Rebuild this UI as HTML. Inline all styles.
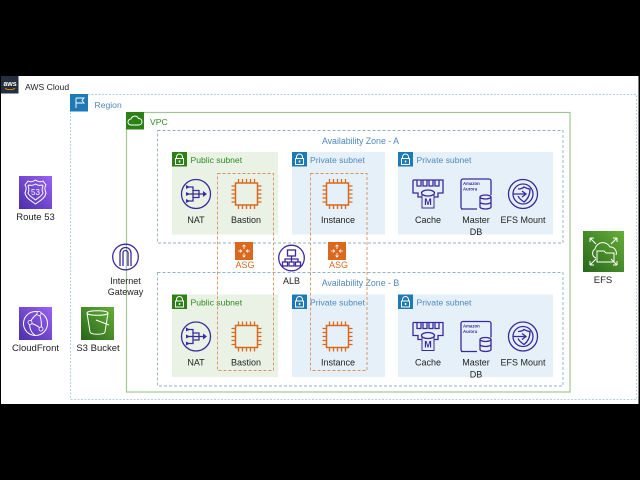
<!DOCTYPE html>
<html><head><meta charset="utf-8"><style>
html,body{margin:0;padding:0;background:#000;width:640px;height:480px;overflow:hidden}
svg{display:block;filter:blur(.3px)}
text{font-family:"Liberation Sans",sans-serif;font-size:9px;fill:#222;text-anchor:middle}
.s{text-anchor:start;font-size:8.600px}
.l{font-size:9.500px}
.b{fill:#4f88bd}.g{fill:#2f8a20}
.pur{fill:none;stroke:#3b2a9e;stroke-width:1.3}
.w{fill:none;stroke:#fff;stroke-width:1}
.o{fill:none;stroke:#d9691e;stroke-width:1.3}
</style></head><body>
<svg width="640" height="480" viewBox="0 0 640 480" xmlns="http://www.w3.org/2000/svg">
<defs>
<linearGradient id="pg" x1="0" y1="1" x2="1" y2="0"><stop offset="0" stop-color="#4a2fa8"/><stop offset="1" stop-color="#9a62f5"/></linearGradient>
<linearGradient id="gg" x1="0" y1="1" x2="1" y2="0"><stop offset="0" stop-color="#27661a"/><stop offset="1" stop-color="#66ae38"/></linearGradient>
<g id="lock"><path d="M4.5 6.5V5a3 3 0 0 1 6 0v1.500" fill="none" stroke="#fff" stroke-width="1"/><rect x="3.500" y="6.500" width="8" height="6" fill="none" stroke="#fff" stroke-width="1"/><rect x="6.800" y="8.500" width="1.500" height="2" fill="#fff"/></g>
<g id="nat"><circle cx="0" cy="0" r="14.500" class="pur"/><path class="pur" d="M-8-7L-3-7V7L-8 7M-8 0H8M-3-3.500H3V3.500H-3"/><path d="M-10-9l4 2-4 2zM-10-2l4 2-4 2zM-10 5l4 2-4 2zM7-3l4 3-4 3z" fill="#3b2a9e"/></g>
<g id="chip"><rect x="-11" y="-11" width="22" height="22" fill="none" stroke="#d9691e" stroke-width="1.500"/><path class="o" d="M-15-8H-11M-15-4H-11M-15 0H-11M-15 4H-11M-15 8H-11M11-8H15M11-4H15M11 0H15M11 4H15M11 8H15M-8-15V-11M-4-15V-11M0-15V-11M4-15V-11M8-15V-11M-8 11V15M-4 11V15M0 11V15M4 11V15M8 11V15"/></g>
<g id="cache"><path class="pur" d="M-15-14H15V-1H10V3H6M-15-14V-1H-10V3H-6M-11-14V-8H-7V-14M-5-14V-8H-1V-14M1-14V-8H5V-14M7-14V-8H11V-14"/><path d="M-6 3v11h12V3" fill="none" stroke="#3b2a9e" stroke-width="1"/><path d="M-6-1V3M6-1V3" fill="none" stroke="#3b2a9e" stroke-width="1"/><ellipse cx="0" cy="-1" rx="6.500" ry="3" fill="#e6f0f8" stroke="#3b2a9e" stroke-width="1.300"/><text x="0" y="11" style="font-size:9px;fill:#3b2a9e;font-weight:bold">M</text></g>
<g id="aurora"><path class="pur" d="M-10 15H-13A2 2 0 0 1-15 13V-13A2 2 0 0 1-13-15H13A2 2 0 0 1 15-13V1M-15 15H1"/><text x="-13" y="-9" style="font-size:4.300px;text-anchor:start;fill:#3b2a9e;font-weight:bold">Amazon</text><text x="-13" y="-3.500" style="font-size:4.300px;text-anchor:start;fill:#3b2a9e;font-weight:bold">Aurora</text><path class="pur" d="M4 3V13A5.500 2 0 0 0 15 13V3M4 8A5.500 2 0 0 0 15 8"/><ellipse cx="9.500" cy="3" rx="5.500" ry="2" class="pur"/></g>
<g id="mount"><circle cx="0" cy="0" r="14.500" class="pur"/><circle cx="0" cy="0" r="10" class="pur"/><path class="pur" d="M-5-5C-2-5 0-6 1-7C3-6 5-5 7-5C7 1 5 5 1 8C-2 6-4 4-5 2M-10 0H2M-1-3L3 0L-1 3"/></g>
<g id="asg"><rect x="0" y="0" width="18" height="18" fill="#d9691e"/><path stroke="#fff" stroke-width=".8" fill="none" d="M9 3V7M7.500 4.500L9 3L10.500 4.500M9 11V15M7.500 13.500L9 15L10.500 13.500M3 9H7M5 7.500L6.800 9L5 10.500M15 9H11M13 7.500L11.200 9L13 10.500"/></g>
<g id="row"><rect x="172" y="0" width="106" height="82.500" fill="#e9f2e5"/><rect x="292" y="0" width="93" height="82.500" fill="#e6f0f8"/><rect x="398" y="0" width="155" height="82.500" fill="#e6f0f8"/>
<rect x="172" y="0" width="15" height="14.500" fill="#2c8016"/><use href="#lock" x="172" y="0"/><rect x="292" y="0" width="15" height="14.500" fill="#1d7ab5"/><use href="#lock" x="292" y="0"/><rect x="398" y="0" width="15" height="14.500" fill="#1d7ab5"/><use href="#lock" x="398" y="0"/>
<text x="190.500" y="11" class="s g">Public subnet</text><text x="310" y="11" class="s b">Private subnet</text><text x="416.500" y="11" class="s b">Private subnet</text>
<use href="#nat" x="196" y="42"/><use href="#chip" x="246.500" y="42"/><use href="#chip" x="337.500" y="42"/><use href="#cache" x="428" y="42"/><use href="#aurora" x="476" y="42"/><use href="#mount" x="523" y="42"/>
<text x="196" y="71">NAT</text><text x="246" y="71">Bastion</text><text x="338" y="71">Instance</text><text x="428" y="71">Cache</text><text x="476" y="71">Master</text><text x="476" y="83">DB</text><text x="523" y="71">EFS Mount</text></g>
</defs>

<rect x="1" y="76" width="637.500" height="328" fill="#fff"/>

<rect x="1" y="76" width="17.500" height="17.500" fill="#232f3e"/>
<text x="10" y="86" style="font-size:7px;fill:#fff;font-weight:bold">aws</text>
<path d="M5 88.500q5 2.500 10 0" stroke="#f90" fill="none" stroke-width=".8"/>
<text x="25" y="90" class="s">AWS Cloud</text>

<rect x="70.500" y="94.500" width="566" height="305" fill="none" stroke="#b4d0df" stroke-width="1" stroke-dasharray="2 1.500"/>
<rect x="70" y="94" width="18" height="17.500" fill="#1d7ab5"/>
<path d="M76 108V98M76 98h8l-2 2.500 2 2.500h-8" fill="none" stroke="#fff" stroke-width=".9"/>
<text x="94.500" y="108" class="s b">Region</text>

<rect x="126.500" y="112.500" width="443.500" height="279.500" fill="none" stroke="#a3c594" stroke-width="1.200"/>
<rect x="126" y="112" width="18" height="17.500" fill="#2c8016"/>
<path d="M131 125a3 3 0 0 1 0-6a4 4 0 0 1 7.500-.5a3.200 3.200 0 0 1 .5 6.500z" fill="none" stroke="#fff" stroke-width=".9"/>
<text x="150" y="125" class="s g">VPC</text>

<rect x="157.500" y="130.500" width="405.500" height="112.500" fill="none" stroke="#8fb2c8" stroke-width=".9" stroke-dasharray="3 2"/>
<rect x="157.500" y="272.500" width="405.500" height="113.500" fill="none" stroke="#8fb2c8" stroke-width=".9" stroke-dasharray="3 2"/>
<text x="360.500" y="144" class="b" style="font-size:8.800px">Availability Zone - A</text>
<text x="360.500" y="286" class="b" style="font-size:8.800px">Availability Zone - B</text>

<use href="#row" y="152"/>
<use href="#row" y="294.500"/>

<rect x="217.500" y="173.500" width="56" height="197" fill="none" stroke="#d98f5f" stroke-width=".9" stroke-dasharray="3 2"/>
<rect x="310.500" y="173.500" width="56.500" height="197" fill="none" stroke="#d98f5f" stroke-width=".9" stroke-dasharray="3 2"/>

<use href="#asg" x="235" y="242"/><use href="#asg" x="328" y="242"/>
<text x="245" y="268" style="fill:#d9691e">ASG</text><text x="338.500" y="268" style="fill:#d9691e">ASG</text>

<circle cx="291.500" cy="258" r="12.800" fill="#fff" class="pur"/>
<rect x="287.500" y="250" width="8" height="6" class="pur"/>
<path class="pur" stroke-width="1" d="M291.500 256V259M285 262V259H298V262M291.500 259V262"/>
<rect x="282.500" y="262" width="5" height="4" class="pur"/><rect x="289" y="262" width="5" height="4" class="pur"/><rect x="295.500" y="262" width="5" height="4" class="pur"/>
<text x="291.500" y="284">ALB</text>

<circle cx="125.500" cy="257" r="12.800" fill="#fff" class="pur"/>
<path class="pur" d="M120 266V253A5.500 5.500 0 0 1 131 253V266M123 266V253A2.500 2.500 0 0 1 128 253V266"/>
<text x="125.500" y="284">Internet</text><text x="125.500" y="295">Gateway</text>

<rect x="19" y="176" width="33" height="33" fill="url(#pg)"/>
<path class="w" d="M28 181C31 183 34 181 35.500 180C37 181 40 183 43 181L46 185C44 188 45 190 46 193C45 198 41 200 35.500 204C30 200 26 198 25 193C26 190 27 188 25 185Z"/>
<path class="w" d="M29 185C32 186 34 185 35.500 184C37 185 39 186 42 185L43 186C41.500 189 42 191 43 193C42 196 39 197 35.500 200C32 197 29 196 28 193C29 191 29.500 189 28 186Z" stroke-width=".7"/>
<text x="35.500" y="195" style="fill:#fff;font-size:8px">53</text>
<text x="35.500" y="220" class="l">Route 53</text>

<rect x="19" y="307" width="33" height="33" fill="url(#pg)"/>
<circle cx="35.500" cy="323.500" r="12" class="w"/>
<path class="w" d="M30 322C33 317 37 314 39 313C41 318 42 324 41 329M30 323C34 324 38 326 41 329M30 323C29 327 31 333 35 335"/>
<circle cx="30" cy="322.500" r="2" fill="#6a45c8" stroke="#fff" stroke-width=".8"/><circle cx="39" cy="313.500" r="2" fill="#6a45c8" stroke="#fff" stroke-width=".8"/><circle cx="41" cy="329" r="2" fill="#6a45c8" stroke="#fff" stroke-width=".8"/>
<text x="35.500" y="351" class="l">CloudFront</text>

<rect x="81" y="307" width="33" height="33" fill="url(#gg)"/>
<path class="w" d="M87 313C87 316 108 316 108 313C108 310 87 310 87 313ZM87 313L90 332C91 335 104 335 105 332L108 313M96 320L109 325"/>
<text x="98" y="351" class="l">S3 Bucket</text>

<rect x="583" y="231" width="41" height="41" fill="url(#gg)"/>
<path class="w" d="M590 238L596 244M590 238H594M590 238V242M617 238L611 244M617 238H613M617 238V242M590 265L596 259M590 265H594M590 265V261M617 265L611 259M617 265H613M617 265V261"/>
<path class="w" d="M596 258a5 5 0 0 1 -1-9a8 8 0 0 1 15-2a6 6 0 0 1 6 8M597 251h7l2 2h8v9h-17z"/>
<text x="603" y="283" class="l">EFS</text>
</svg>
</body></html>
